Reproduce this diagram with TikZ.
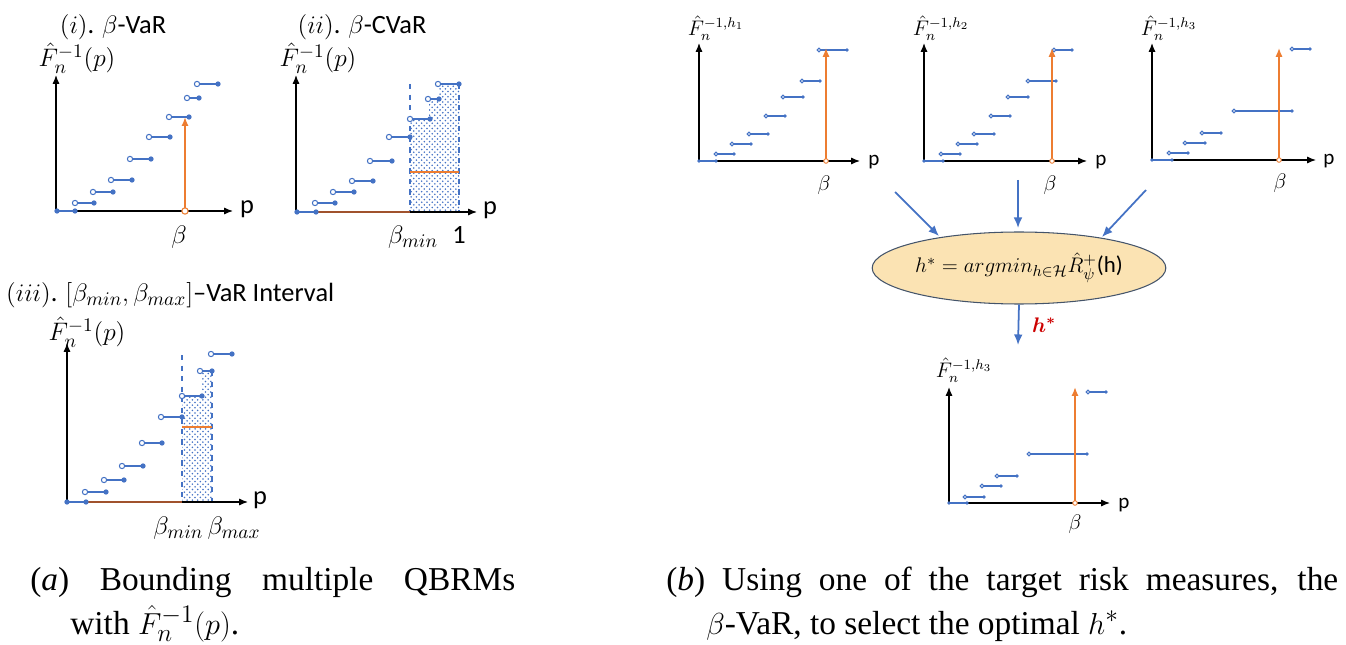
\documentclass[tikz,border=0pt]{standalone}
\usepackage{amsmath}
\usepackage{fontspec}
\setmainfont{Liberation Serif}
\newfontfamily\lab{Carlito}
\usetikzlibrary{arrows.meta,patterns,shapes.geometric}
\definecolor{bl}{HTML}{4472C4}
\definecolor{orr}{HTML}{ED7D31}
\definecolor{elf}{HTML}{FBE3B3}
\definecolor{elb}{HTML}{44546A}
\definecolor{brn}{HTML}{A0522D}
\tikzset{
 ax/.style={line width=0.7pt,-{Latex[length=5pt,width=4pt]}},
 stp/.style={bl,line width=1.5pt},
 varr/.style={orr,line width=1.1pt,-{Latex[length=5pt,width=4pt]}},
 shade/.style={fill=bl!30,pattern=crosshatch dots,pattern color=bl},
 dsh/.style={bl,dashed,line width=0.9pt},
 flow/.style={bl,line width=1pt,-{Latex[length=6pt,width=5pt]}},
 lb/.style={font=\lab\fontsize{15}{17}\selectfont},
 sl/.style={font=\lab\fontsize{12}{14}\selectfont},
}
\newcommand{\steps}[2]{% #1 list, #2 radius
 \foreach \a/\b/\c in {#1}{
  \draw[stp] (\a,\c) -- (\b,\c);
  \fill[bl] (\b,\c) circle (#2);
  \draw[bl,fill=white,line width=0.6pt] (\a,\c) circle (#2);}}
\begin{document}
\begin{tikzpicture}[x=0.02cm,y=-0.02cm]
\useasboundingbox (0,0) rectangle (1346,645);
% ---------- (i)
\node[lb] (t1) at (113,27) {$(i)$. $\beta$-VaR};
\node[lb] (y1) at (77,58) {$\hat{F}_n^{-1}(p)$};
\draw[ax] (56,211) -- (56,75);
\draw[ax] (56,211) -- (233,211);
\node[lb] (p1) at (247,209) {p};
\steps{75/94/203,93/113/192,111/132/180,130/151/159,149/170/137,169/189/117,187/199/98,197/218/84}{1.5pt}
\draw[stp] (57,211) -- (75,211); \fill[bl] (57,211) circle(1.5pt); \fill[bl] (75,211) circle(1.5pt);
\draw[varr] (185,211) -- (185,117);
\draw[orr,fill=white,line width=0.6pt] (185,211) circle(1.8pt);
\node[lb] (b1) at (179,237) {$\beta$};
% ---------- (ii)
\node[lb] (t2) at (362,27) {$(ii)$. $\beta$-CVaR};
\node[lb] (y2) at (318,58) {$\hat{F}_n^{-1}(p)$};
\fill[shade] (410,212) -- (410,119) -- (429,119) -- (429,99) -- (439,99) -- (439,84) -- (459,84) -- (459,212) -- cycle;
\draw[dsh] (410,84) -- (410,212);
\draw[dsh] (459,84) -- (459,212);
\draw[ax] (296,212) -- (296,75);
\draw[ax] (296,212) -- (477,212);
\draw[brn,line width=1pt] (316,212) -- (410,212);
\draw[orr,line width=1pt] (410,172) -- (459,172);
\node[lb] (p2) at (490,210) {p};
\steps{315/335/203,333/354/192,352/373/181,370/392/161,389/410/137,410/430/119,428/439/99,438/459/84}{1.5pt}
\draw[stp] (297,212) -- (316,212); \fill[bl] (297,212) circle(1.5pt); \fill[bl] (316,212) circle(1.5pt);
\node[lb] (b2) at (413,237) {$\beta_{min}$};
\node[lb] (o2) at (459,235) {1};
% ---------- (iii)
\node[lb,anchor=west] (t3) at (0,295) {$(iii)$. $[\beta_{min}, \beta_{max}]$–VaR Interval};
\node[lb] (y3) at (87,332) {$\hat{F}_n^{-1}(p)$};
\fill[shade] (182,502) -- (182,396) -- (201,396) -- (201,371) -- (212,371) -- (212,502) -- cycle;
\draw[dsh] (182,355) -- (182,502);
\draw[dsh] (212,371) -- (212,502);
\draw[ax] (67,502) -- (67,343);
\draw[ax] (67,502) -- (248,502);
\draw[brn,line width=1pt] (86,502) -- (182,502);
\draw[orr,line width=1pt] (182,427) -- (212,427);
\node[lb] (p3) at (260,500) {p};
\steps{85/106/492,104/124/480,122/143/466,142/162/443,161/182/417,182/202/396,200/212/371,211/232/354}{1.5pt}
\draw[stp] (67,502) -- (86,502); \fill[bl] (67,502) circle(1.5pt); \fill[bl] (86,502) circle(1.5pt);
\node[lb] (b3) at (207,528) {$\beta_{min}\,\beta_{max}$};
% ---------- h1
\node[sl] (yh1) at (716,28) {$\hat{F}_n^{-1,h_1}$};
\draw[ax] (699,161) -- (699,43);
\draw[ax] (699,161) -- (860,161);
\node[sl] (ph1) at (874,162) {p};
\steps{716/734/154,732/751/144,749/768/134,766/785/116,783/803/97,802/820/81,819/847/50}{1.1pt}
\draw[stp] (699,161) -- (716,161); \fill[bl] (699,161) circle(1.1pt); \fill[bl] (716,161) circle(1.1pt);
\draw[varr,line width=0.8pt] (826,161) -- (826,48);
\draw[orr,fill=white,line width=0.5pt] (826,161) circle(1.3pt);
\node[sl] (bh1) at (824,185) {$\beta$};
% ---------- h2
\node[sl] (yh2) at (941,28) {$\hat{F}_n^{-1,h_2}$};
\draw[ax] (924,161) -- (924,43);
\draw[ax] (924,161) -- (1087,161);
\node[sl] (ph2) at (1101,162) {p};
\steps{941/960/154,958/977/144,974/994/134,991/1010/116,1008/1028/97,1028/1056/81,1054/1072/50}{1.1pt}
\draw[stp] (924,161) -- (943,161); \fill[bl] (924,161) circle(1.1pt); \fill[bl] (943,161) circle(1.1pt);
\draw[varr,line width=0.8pt] (1052,161) -- (1052,48);
\draw[orr,fill=white,line width=0.5pt] (1052,161) circle(1.3pt);
\node[sl] (bh2) at (1050,185) {$\beta$};
% ---------- h3
\node[sl] (yh3) at (1169,28) {$\hat{F}_n^{-1,h_3}$};
\draw[ax] (1152,160) -- (1152,43);
\draw[ax] (1152,160) -- (1316,160);
\node[sl] (ph3) at (1329,161) {p};
\steps{1169/1188/153,1185/1205/143,1202/1221/133,1234/1292/111,1292/1310/49}{1.1pt}
\draw[stp] (1152,160) -- (1172,160); \fill[bl] (1152,160) circle(1.1pt); \fill[bl] (1172,160) circle(1.1pt);
\draw[varr,line width=0.8pt] (1279,160) -- (1279,48);
\draw[orr,fill=white,line width=0.5pt] (1279,160) circle(1.3pt);
\node[sl] (bh3) at (1280,183) {$\beta$};
% ---------- ellipse and arrows
\node[ellipse,draw=elb,fill=elf,line width=0.6pt,minimum width=4.92cm,minimum height=1.44cm,inner sep=0pt,font=\lab\fontsize{13}{15}\selectfont] (E) at (1019,268) {$h^{*}=argmin_{h\in\mathcal{H}}\hat{R}_{\psi}^{+}$(h)};
\coordinate (s1) at (895,192); \coordinate (s2) at (1018,180); \coordinate (s3) at (1146,190);
\coordinate (e1) at (939,236); \coordinate (e2) at (1018,228); \coordinate (e3) at (1102,237);
\draw[flow] (s1) -- (e1);
\draw[flow] (s2) -- (e2);
\draw[flow] (s3) -- (e3);
\coordinate (d2) at (1018,345);
\draw[flow] (E.south) -- (d2);
\node[sl,text=red!80!black] (hs) at (1044,325) {$\boldsymbol{h^{*}}$};
% ---------- bottom chart
\node[sl] (yb) at (964,370) {$\hat{F}_n^{-1,h_3}$};
\draw[ax] (949,503) -- (949,387);
\draw[ax] (949,503) -- (1110,503);
\node[sl] (pb) at (1124,505) {p};
\steps{965/984/497,982/1001/486,997/1017/476,1029/1087/454,1088/1106/392}{1.1pt}
\draw[stp] (949,503) -- (967,503); \fill[bl] (949,503) circle(1.1pt); \fill[bl] (967,503) circle(1.1pt);
\draw[varr] (1075,503) -- (1075,387);
\draw[orr,fill=white,line width=0.5pt] (1075,503) circle(1.3pt);
\node[sl] (bb) at (1075,524) {$\beta$};
% ---------- captions
\node[anchor=base west,inner sep=0pt,font=\fontsize{19}{22}\selectfont] (ca1) at (30,590) {\makebox[9.7cm][s]{(\textit{a}) Bounding multiple QBRMs}};
\node[anchor=base west,inner sep=0pt,font=\fontsize{19}{22}\selectfont] (ca2) at (70,634) {with $\hat{F}_n^{-1}(p)$.};
\node[anchor=base west,inner sep=0pt,font=\fontsize{19}{22}\selectfont] (cb1) at (666,590) {\makebox[13.44cm][s]{(\textit{b}) Using one of the target risk measures, the}};
\node[anchor=base west,inner sep=0pt,font=\fontsize{19}{22}\selectfont] (cb2) at (706,634) {$\beta$-VaR, to select the optimal $h^{*}$.};
\end{tikzpicture}
\end{document}
